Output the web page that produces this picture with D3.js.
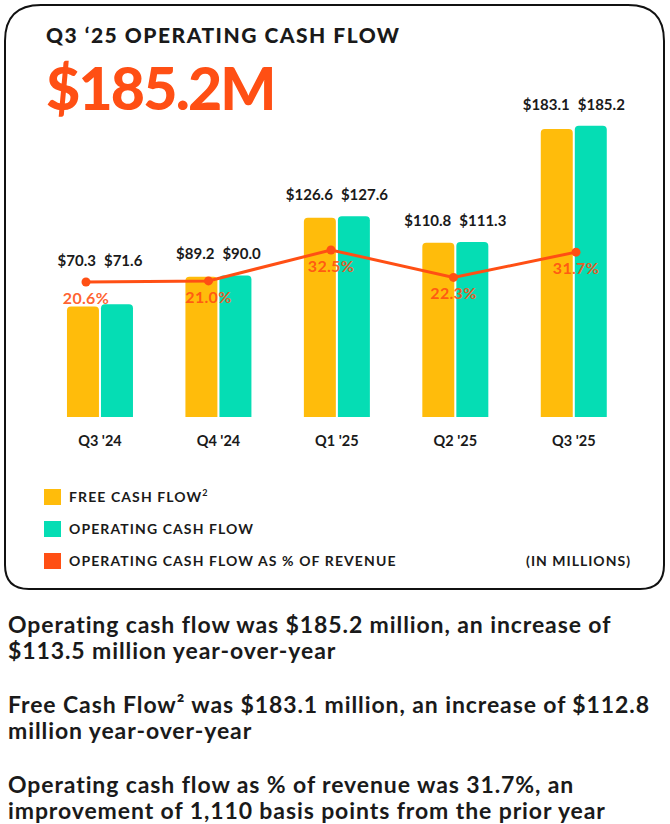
<!DOCTYPE html>
<html>
<head>
<meta charset="utf-8">
<script src="https://cdn.jsdelivr.net/npm/d3@7"></script>
<style>
  body { margin: 0; background: #fff; }
  svg { display: block; font-family: "Lato", sans-serif; }
</style>
</head>
<body>
<div id="chart"></div>
<script>
// data
const quarters = ["Q3 '24", "Q4 '24", "Q1 '25", "Q2 '25", "Q3 '25"];
const freeCashFlow = [70.3, 89.2, 126.6, 110.8, 183.1];
const operatingCashFlow = [71.6, 90.0, 127.6, 111.3, 185.2];
const pctOfRevenue = [20.6, 21.0, 32.5, 22.3, 31.7];
const legendItems = ["FREE CASH FLOW", "OPERATING CASH FLOW", "OPERATING CASH FLOW AS % OF REVENUE"];
const notes = [
  ["Operating cash flow was $185.2 million, an increase of", "$113.5 million year-over-year"],
  ["Free Cash Flow² was $183.1 million, an increase of $112.8", "million year-over-year"],
  ["Operating cash flow as % of revenue was 31.7%, an", "improvement of 1,110 basis points from the prior year"]
];

const yellow = "#FFBC0B", teal = "#05DDB4", orange = "#FF4F14", dark = "#1a1a1a";

const svg = d3.select("#chart").append("svg")
  .attr("width", 670)
  .attr("height", 824);

// card outline, bigger radius on top corners
const L = 5, T = 5, R = 664, B = 589, rt = 36, rb = 24;
svg.append("path")
  .attr("d", `M${L + rt},${T} H${R - rt} Q${R},${T} ${R},${T + rt} V${B - rb} Q${R},${B} ${R - rb},${B} H${L + rb} Q${L},${B} ${L},${B - rb} V${T + rt} Q${L},${T} ${L + rt},${T} Z`)
  .attr("fill", "none")
  .attr("stroke", "#111")
  .attr("stroke-width", 2);

svg.append("text")
  .attr("x", 46).attr("y", 43)
  .attr("font-size", 21).attr("font-weight", 900)
  .attr("letter-spacing", 1.5)
  .attr("fill", dark)
  .text("Q3 \u201825 OPERATING CASH FLOW");

svg.append("text")
  .attr("x", 46).attr("y", 110)
  .attr("font-size", 59).attr("font-weight", 900)
  .attr("letter-spacing", -1.8)
  .attr("fill", orange)
  .text("$185.2M");

// scales
const x = d3.scaleBand().domain(quarters).range([40.75, 633]);
const sub = d3.scaleBand().domain(["fcf", "ocf"]).range([0, 66]).paddingInner(0.06);
const y = d3.scaleLinear().domain([0, 200]).range([417, 102.4]);
const xLine = d3.scalePoint().domain(quarters).range([86, 576]);
const yPct = d3.scaleLinear().domain([0, 40]).range([337.4, 229.8]);

const rows = quarters.map((q, i) => ({ q, fcf: freeCashFlow[i], ocf: operatingCashFlow[i], pct: pctOfRevenue[i] }));

function roundTop(x0, y0, w, h, r) {
  return `M${x0},${y0 + h} V${y0 + r} Q${x0},${y0} ${x0 + r},${y0} H${x0 + w - r} Q${x0 + w},${y0} ${x0 + w},${y0 + r} V${y0 + h} Z`;
}

const groups = svg.append("g").selectAll("g")
  .data(rows)
  .join("g")
  .attr("transform", d => `translate(${x(d.q) + x.bandwidth() / 2 - 33},0)`);

groups.append("path")
  .attr("fill", yellow)
  .attr("d", d => roundTop(sub("fcf"), y(d.fcf), sub.bandwidth(), y(0) - y(d.fcf), 4));
groups.append("path")
  .attr("fill", teal)
  .attr("d", d => roundTop(sub("ocf"), y(d.ocf), sub.bandwidth(), y(0) - y(d.ocf), 4));

// value labels sit above the bar, or above the line when it is higher
const labelY = d => Math.min(y(Math.max(d.fcf, d.ocf)), yPct(d.pct)) - 16;
groups.append("text")
  .attr("x", 29).attr("y", labelY)
  .attr("text-anchor", "end")
  .attr("font-size", 15).attr("font-weight", 700).attr("fill", dark)
  .text(d => "$" + d.fcf.toFixed(1));
groups.append("text")
  .attr("x", 37).attr("y", labelY)
  .attr("text-anchor", "start")
  .attr("font-size", 15).attr("font-weight", 700).attr("fill", dark)
  .text(d => "$" + d.ocf.toFixed(1));

// x axis labels
const xAxis = svg.append("g")
  .attr("transform", `translate(0,${y(0)})`)
  .call(d3.axisBottom(x).tickSize(0).tickPadding(19));
xAxis.select(".domain").remove();
xAxis.selectAll("text")
  .attr("font-family", "Lato, sans-serif")
  .attr("font-size", 14.5).attr("font-weight", 700).attr("fill", dark);

// line for % of revenue
svg.append("path")
  .datum(rows)
  .attr("fill", "none")
  .attr("stroke", orange)
  .attr("stroke-width", 3)
  .attr("d", d3.line().x(d => xLine(d.q)).y(d => yPct(d.pct)));

svg.append("g").selectAll("circle")
  .data(rows)
  .join("circle")
  .attr("cx", d => xLine(d.q)).attr("cy", d => yPct(d.pct))
  .attr("r", 4.5).attr("fill", orange);

svg.append("g").selectAll("text")
  .data(rows)
  .join("text")
  .attr("x", d => xLine(d.q)).attr("y", d => yPct(d.pct) + 22)
  .attr("text-anchor", "middle")
  .attr("font-size", 16).attr("font-weight", 700).attr("fill", orange).attr("fill-opacity", 0.9)
  .attr("letter-spacing", 0.3)
  .text(d => d.pct.toFixed(1) + "%");

// legend
const legend = svg.append("g").selectAll("g")
  .data(legendItems)
  .join("g")
  .attr("transform", (d, i) => `translate(44,${489 + i * 32})`);
legend.append("rect")
  .attr("width", 17).attr("height", 16)
  .attr("fill", (d, i) => [yellow, teal, orange][i]);
const legText = legend.append("text")
  .attr("x", 25).attr("y", 13)
  .attr("font-size", 14).attr("font-weight", 700).attr("fill", dark)
  .attr("letter-spacing", 1.1)
  .text(d => d);
legText.filter((d, i) => i === 0)
  .append("tspan").attr("dy", -6).attr("font-size", 9).text("2");

svg.append("text")
  .attr("x", 631).attr("y", 566)
  .attr("text-anchor", "end")
  .attr("font-size", 14).attr("font-weight", 700).attr("fill", dark)
  .attr("letter-spacing", 1)
  .text("(IN MILLIONS)");

// notes under the card
svg.append("g").selectAll("text")
  .data(notes.flatMap((p, i) => p.map((line, j) => ({ line, i, j }))))
  .join("text")
  .attr("x", 8)
  .attr("y", d => 633 + d.i * 80 + d.j * 26)
  .attr("font-size", 23).attr("font-weight", 700).attr("fill", dark)
  .attr("letter-spacing", 0.9)
  .text(d => d.line);
</script>
</body>
</html>
